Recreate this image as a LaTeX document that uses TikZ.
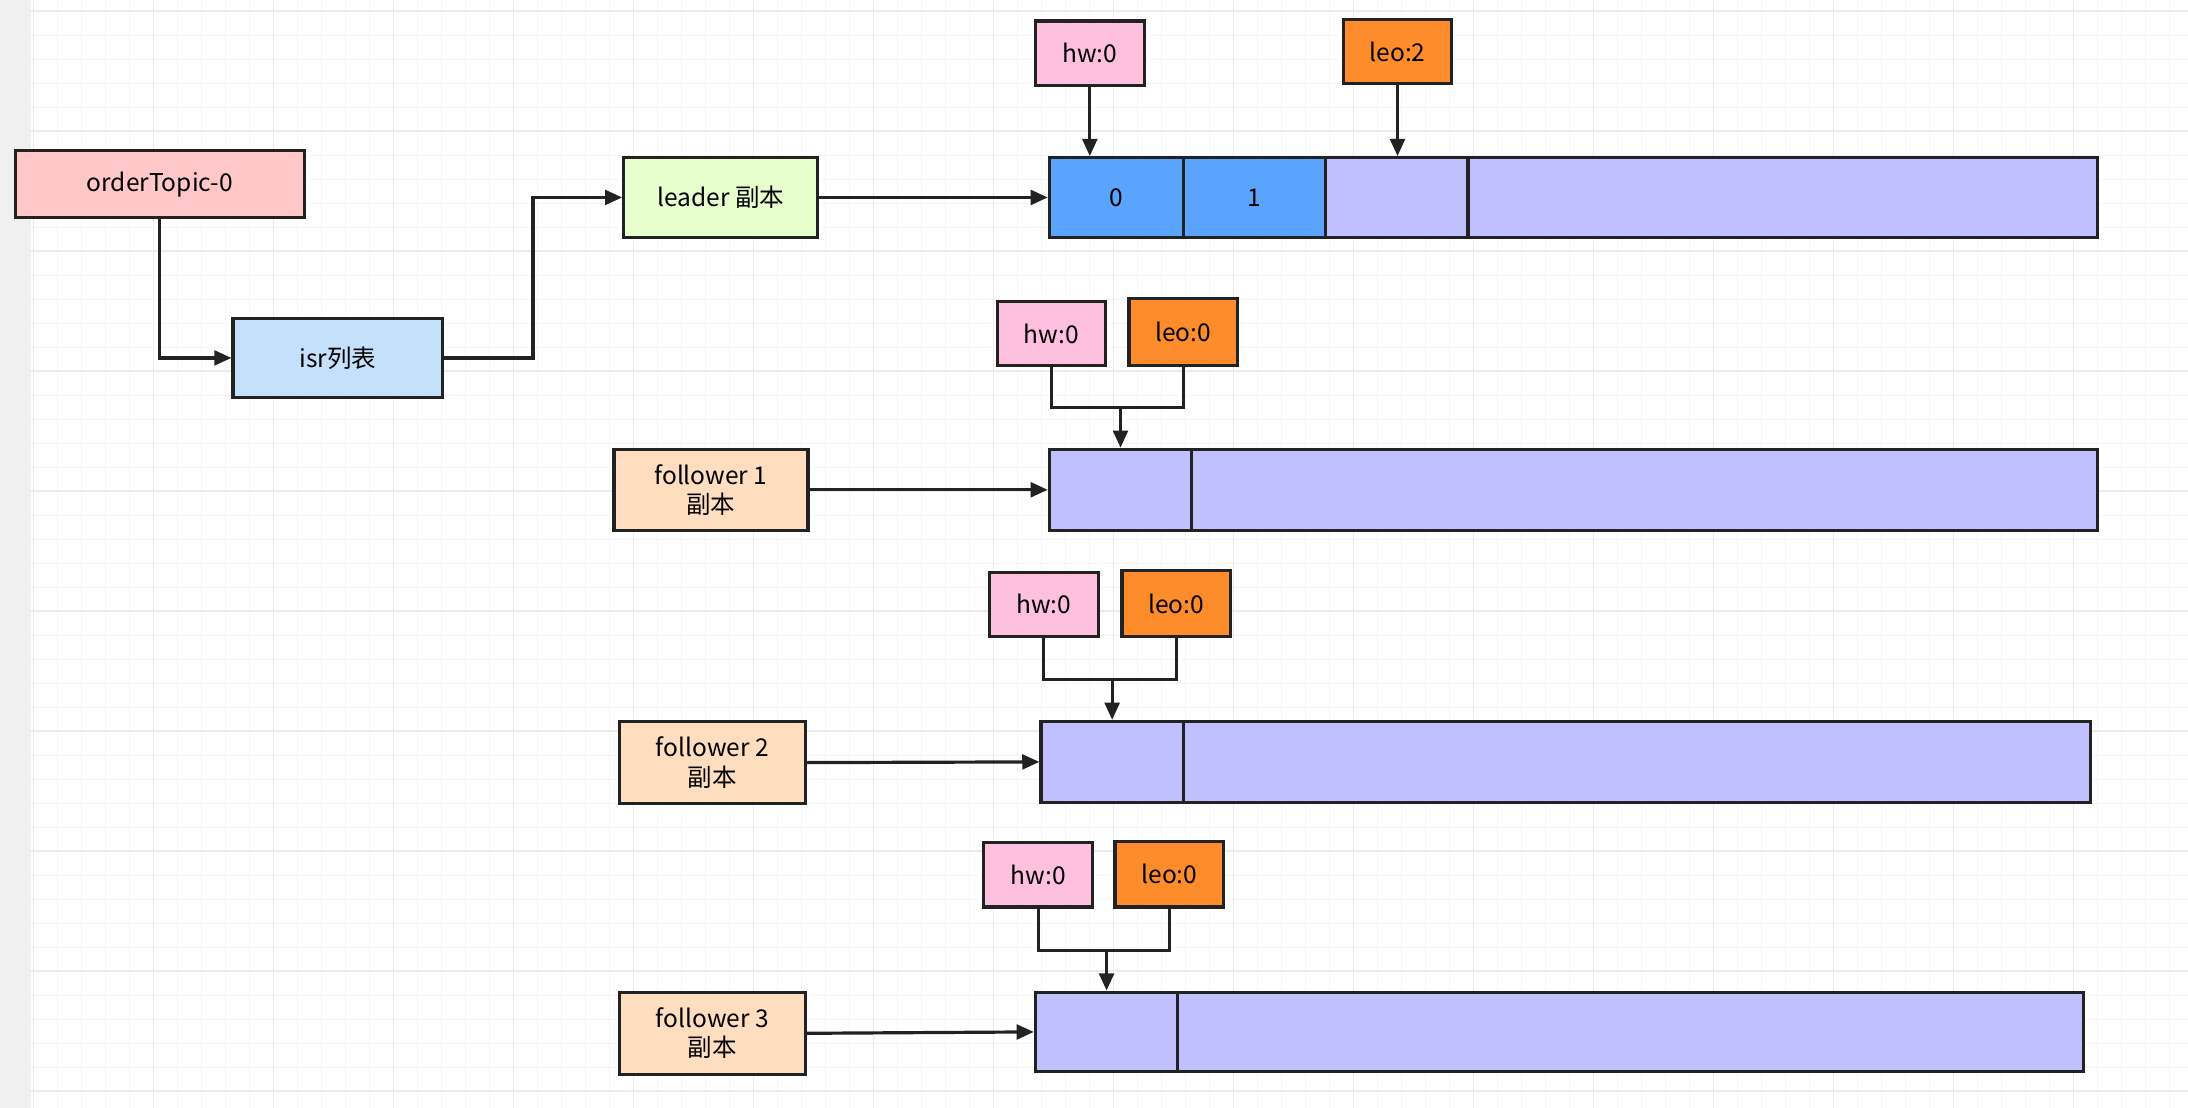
\documentclass[tikz,border=0pt]{standalone}
\usepackage{fontspec}
\setmainfont{Noto Sans CJK SC}
\usetikzlibrary{arrows.meta}
\definecolor{cpink}{HTML}{FFC7C7}
\definecolor{cblue}{HTML}{C5E0FA}
\definecolor{cgreen}{HTML}{E6FFCC}
\definecolor{cpeach}{HTML}{FFDEC0}
\definecolor{cbar}{HTML}{C0BFFF}
\definecolor{cdblue}{HTML}{5AA3FF}
\definecolor{chw}{HTML}{FFC0E0}
\definecolor{cleo}{HTML}{FF8C2A}
\definecolor{cline}{HTML}{222222}
\begin{document}
\begin{tikzpicture}[x=0.02cm,y=-0.02cm,
  box/.style={draw=cline,line width=1.3pt,inner sep=0pt,align=center,font=\fontsize{10}{12}\selectfont},
  arr/.style={draw=cline,line width=1.3pt,-{Triangle[length=7pt,width=6pt]}},
  ln/.style={draw=cline,line width=1.3pt}]
\useasboundingbox (0,0) rectangle (1568,794);
\fill[white] (0,0) rectangle (1568,794);
\fill[gray!12] (0,0) rectangle (22,794);
\foreach \i in {0,...,90} {\draw[gray!7,line width=0.4pt] (24+\i*17.2,0) -- (24+\i*17.2,794);}
\foreach \i in {0,...,46} {\draw[gray!7,line width=0.4pt] (22,8+\i*17.2) -- (1568,8+\i*17.2);}
\foreach \i in {0,...,18} {\draw[gray!16,line width=0.6pt] (24+\i*86,0) -- (24+\i*86,794);}
\foreach \i in {0,...,9} {\draw[gray!16,line width=0.6pt] (22,8+\i*86) -- (1568,8+\i*86);}

\node[box,fill=cpink,minimum width=4.14cm,minimum height=0.96cm] (ot) at (114.5,132) {orderTopic-0};
\node[box,fill=cblue,minimum width=3.0cm,minimum height=1.14cm] (isr) at (242,256.5) {isr列表};
\node[box,fill=cgreen,minimum width=2.78cm,minimum height=1.14cm] (ld) at (516.5,141.5) {leader 副本};
\node[box,fill=cdblue,minimum width=1.92cm,minimum height=1.14cm] (c0) at (800,141.5) {0};
\node[box,fill=cdblue,minimum width=2.04cm,minimum height=1.14cm] (c1) at (899,141.5) {1};
\node[box,fill=cbar,minimum width=2.04cm,minimum height=1.14cm] (c2) at (1001,141.5) {};
\node[box,fill=cbar,minimum width=9.02cm,minimum height=1.14cm] (c3) at (1277.5,141.5) {};
\node[box,fill=chw,minimum width=1.56cm,minimum height=0.92cm] (hwT) at (781,38) {hw:0};
\node[box,fill=cleo,minimum width=1.54cm,minimum height=0.92cm] (leoT) at (1001.5,37) {leo:2};

\node[box,fill=cpeach,minimum width=2.78cm,minimum height=1.16cm] (f1) at (509.5,351) {follower 1\\副本};
\node[box,fill=cbar,minimum width=2.04cm,minimum height=1.16cm] (b1a) at (803,351) {};
\node[box,fill=cbar,minimum width=12.98cm,minimum height=1.16cm] (b1b) at (1178.5,351) {};
\node[box,fill=chw,minimum width=1.54cm,minimum height=0.92cm] (hw1) at (753.5,239) {hw:0};
\node[box,fill=cleo,minimum width=1.56cm,minimum height=0.96cm] (leo1) at (848,238) {leo:0};

\node[box,fill=cpeach,minimum width=2.66cm,minimum height=1.18cm] (f2) at (510.5,546.5) {follower 2\\副本};
\node[box,fill=cbar,minimum width=2.04cm,minimum height=1.16cm] (b2a) at (797,546) {};
\node[box,fill=cbar,minimum width=13.0cm,minimum height=1.16cm] (b2b) at (1173,546) {};
\node[box,fill=chw,minimum width=1.56cm,minimum height=0.92cm] (hw2) at (748,433) {hw:0};
\node[box,fill=cleo,minimum width=1.56cm,minimum height=0.94cm] (leo2) at (843,432.5) {leo:0};

\node[box,fill=cpeach,minimum width=2.66cm,minimum height=1.18cm] (f3) at (510.5,740.5) {follower 3\\副本};
\node[box,fill=cbar,minimum width=2.04cm,minimum height=1.14cm] (b3a) at (793,739.5) {};
\node[box,fill=cbar,minimum width=12.98cm,minimum height=1.14cm] (b3b) at (1168.5,739.5) {};
\node[box,fill=chw,minimum width=1.56cm,minimum height=0.92cm] (hw3) at (744,627) {hw:0};
\node[box,fill=cleo,minimum width=1.56cm,minimum height=0.94cm] (leo3) at (838,626.5) {leo:0};

\coordinate (j1) at (803,292);
\coordinate (j2) at (797,487);
\coordinate (j3) at (793,681);

\draw[arr] (ot.south) |- (isr.west);
\draw[arr] (isr.east) -- (382,256.5) |- (ld.west);
\draw[arr] (ld.east) -- (c0.west);
\draw[arr] (hwT.south) -- (hwT.south |- c0.north);
\draw[arr] (leoT.south) -- (leoT.south |- c2.north);
\draw[arr] (f1.east) -- (b1a.west);
\draw[arr] (f2.east) -- (b2a.west);
\draw[arr] (f3.east) -- (b3a.west);
\draw[ln] (hw1.south) |- (j1); \draw[ln] (leo1.south) |- (j1); \draw[arr] (j1) -- (b1a.north);
\draw[ln] (hw2.south) |- (j2); \draw[ln] (leo2.south) |- (j2); \draw[arr] (j2) -- (b2a.north);
\draw[ln] (hw3.south) |- (j3); \draw[ln] (leo3.south) |- (j3); \draw[arr] (j3) -- (b3a.north);
\end{tikzpicture}
\end{document}
